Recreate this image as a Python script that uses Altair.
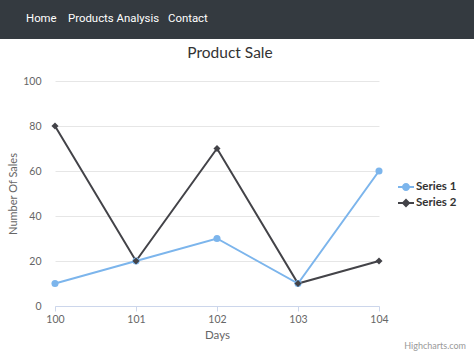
import altair as alt
import pandas as pd

days = [100, 101, 102, 103, 104]
series1 = [10, 20, 30, 10, 60]
series2 = [80, 20, 70, 10, 20]
series_names = ["Series 1", "Series 2"]
colors = ["#7cb5ec", "#434348"]
nav_items = ["Home", "Products Analysis", "Contact"]
nav_x = [26, 68, 168]
y_ticks = [0, 20, 40, 60, 80, 100]

rows = []
for d, a, b in zip(days, series1, series2):
    rows.append({"day": d, "sales": a, "series": series_names[0], "leg": series_names[0]})
    rows.append({"day": d, "sales": b, "series": series_names[1], "leg": series_names[1]})
df = pd.DataFrame(rows)

FONT = "Lato"
W, H = 324, 225
L, T = 55, 81

xenc = alt.X("day:Q", scale=alt.Scale(domain=[100, 104], nice=False),
             axis=alt.Axis(values=days, format="d", title="Days", grid=False,
                           domainColor="#ccd6eb", tickColor="#ccd6eb", tickSize=5,
                           labelFlush=False,
                           labelColor="#666666", labelFontSize=10.5, labelFont=FONT,
                           labelPadding=3, titleFont=FONT, titleFontSize=11.5,
                           titleColor="#666666", titleFontWeight="normal", titlePadding=5))
yenc = alt.Y("sales:Q", scale=alt.Scale(domain=[0, 100], nice=False),
             axis=alt.Axis(values=y_ticks, title="Number Of Sales", grid=True,
                           gridColor="#e6e6e6", domain=False, ticks=False,
                           labelColor="#666666", labelFontSize=10.5, labelFont=FONT,
                           labelPadding=14, titleFont=FONT, titleFontSize=11,
                           titleColor="#666666", titleFontWeight="normal", titlePadding=4))

cscale = alt.Scale(domain=series_names, range=colors)

lines = alt.Chart(df).mark_line(strokeWidth=2).encode(
    x=xenc, y=yenc, color=alt.Color("series:N", scale=cscale, legend=None))

points = alt.Chart(df).mark_point(filled=True, opacity=1).encode(
    x="day:Q", y="sales:Q",
    color=alt.Color("series:N", scale=cscale, legend=None),
    shape=alt.Shape("series:N", scale=alt.Scale(domain=series_names, range=["circle", "diamond"]), legend=None),
    size=alt.value(50))

circ = "M-1,-0.11L1,-0.11L1,0.11L-1,0.11Z M0.5,0A0.5,0.5 0 1,1 -0.5,0A0.5,0.5 0 1,1 0.5,0Z"
diam = "M-1,-0.11L1,-0.11L1,0.11L-1,0.11Z M0,-0.55L0.55,0L0,0.55L-0.55,0Z"

leg_cfg = dict(title=None, orient="none", legendX=342, legendY=97,
               labelFont=FONT, labelFontSize=11.5, labelFontWeight="bold",
               labelColor="#333333", symbolSize=256, symbolOpacity=1,
               rowPadding=-1, labelOffset=1)

legend_layer = alt.Chart(df).mark_point(filled=True, opacity=0).encode(
    x="day:Q", y="sales:Q",
    color=alt.Color("leg:N", scale=alt.Scale(domain=series_names, range=colors),
                    legend=alt.Legend(**leg_cfg)),
    shape=alt.Shape("leg:N", scale=alt.Scale(domain=series_names, range=[circ, diam]),
                    legend=alt.Legend(**leg_cfg)),
    size=alt.value(256))

one = alt.Data(values=[{"k": 1}])
nav_bar = alt.Chart(one).mark_rect(color="#343a40").encode(
    x=alt.value(-L), x2=alt.value(474 - L), y=alt.value(-T), y2=alt.value(39 - T))

nav_df = pd.DataFrame({"label": nav_items, "px": [v - L for v in nav_x]})
nav_text = alt.Chart(nav_df).mark_text(align="left", baseline="middle", color="white",
                                        font="Roboto", fontSize=11.4).encode(
    x=alt.X("px:Q", scale=None), y=alt.value(19 - T), text="label:N")

title = alt.Chart(alt.Data(values=[{"t": "Product Sale"}])).mark_text(
    align="center", baseline="middle", font=FONT, fontSize=15.5, color="#333333").encode(
    x=alt.value(230 - L), y=alt.value(53 - T), text="t:N")

credit = alt.Chart(alt.Data(values=[{"t": "Highcharts.com"}])).mark_text(
    align="right", baseline="middle", font=FONT, fontSize=9, color="#999999").encode(
    x=alt.value(466 - L), y=alt.value(346 - T), text="t:N")

chart = alt.layer(nav_bar, nav_text, title, credit, lines, points, legend_layer).resolve_scale(
    color="independent", shape="independent").properties(
    width=W, height=H, autosize=alt.AutoSizeParams(type="none"),
    padding={"left": L, "top": T, "right": 474 - L - W, "bottom": 353 - T - H},
    background="white").configure_view(stroke=None)

chart.save("out.html", embed_options={"renderer": "svg", "actions": False})
